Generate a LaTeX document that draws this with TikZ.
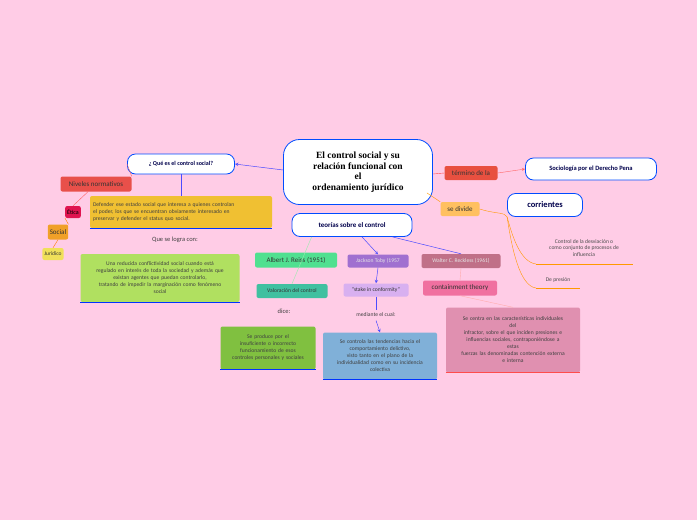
\documentclass[tikz,border=0pt]{standalone}
\usepackage{fontspec}
\setmainfont{Carlito}
\newfontfamily\ttl{Liberation Serif}
\begin{document}
\begin{tikzpicture}[x=1pt,y=-1pt,
 main/.style={draw=blue!70!cyan,fill=white,rounded corners=8pt,line width=0.8pt,align=center},
 tag/.style={rounded corners=2pt,inner sep=2pt,font=\fontsize{7}{8}\selectfont,text=black!80},
 box/.style={rounded corners=2pt,align=center,inner sep=3pt,font=\fontsize{5.6}{7}\selectfont,text=black!75},
 bl/.style={blue!70!white,line width=0.5pt},
 ul/.style={blue!80!cyan,line width=1pt}]
\fill[fill={rgb,255:red,255;green,204;blue,230}] (0,0) rectangle (697,520);
\useasboundingbox (0,0) rectangle (697,520);
\node[main,minimum width=149pt,minimum height=65pt,rounded corners=16pt,font=\ttl\bfseries\fontsize{9.5}{10.5}\selectfont] (t) at (358,172) {El control social y su\\relación funcional con\\el\\ordenamiento jurídico};
\node[main,minimum width=107pt,minimum height=20pt,font=\bfseries\fontsize{6}{7}\selectfont,text=blue!30!black] (q) at (181,164) {¿ Qué es el control social?};
\node[tag,fill={rgb,255:red,232;green,80;blue,74},minimum width=71pt,minimum height=15pt] (n) at (96,184) {Niveles normativos};
\node[tag,fill={rgb,255:red,224;green,20;blue,80},minimum height=12pt,font=\fontsize{6}{7}\selectfont,text=black] (e) at (73,212) {Ética};
\node[tag,fill={rgb,255:red,240;green,160;blue,40},minimum height=15pt] (s) at (58,232) {Social};
\node[tag,fill={rgb,255:red,240;green,224;blue,90},minimum height=12pt,font=\fontsize{5.5}{6}\selectfont] (j) at (53,254) {Jurídico};
\node[box,fill={rgb,255:red,240;green,192;blue,50},text width=176pt,align=left,minimum height=32pt] (d) at (181,212) {Defender ese estado social que interesa a quienes controlan\\el poder, los que se encuentran obviamente interesado en\\preservar y defender el status quo social.};
\draw[ul] (d.south west)--(d.south east);
\node[font=\fontsize{6.5}{7}\selectfont,text=black!75] (lo) at (175,240) {Que se logra con:};
\node[box,fill={rgb,255:red,176;green,224;blue,96},text width=153pt,minimum height=48pt] (u) at (160,278) {Una reducida conflictividad social cuando está\\regulado en interés de toda la sociedad y además que\\existan agentes que puedan controlarlo,\\tratando de impedir la marginación como fenómeno\\social};
\draw[ul] (u.south west)--(u.south east);
\node[main,minimum width=120pt,minimum height=23pt,font=\bfseries\fontsize{7}{8}\selectfont,text=blue!30!black] (te) at (352,225) {teorías sobre el control};
\node[tag,fill={rgb,255:red,80;green,224;blue,144},minimum width=82pt,minimum height=15pt] (a) at (296,260) {Albert J. Reiss (1951)};
\node[tag,fill={rgb,255:red,64;green,192;blue,160},minimum width=71pt,minimum height=14pt,font=\fontsize{5.6}{6}\selectfont] (v) at (292,291) {Valoración del control};
\node[font=\fontsize{6.5}{7}\selectfont,text=black!75] (di) at (284,311) {dice:};
\node[box,fill={rgb,255:red,128;green,192;blue,64},text width=89pt,minimum height=43pt] (sp) at (268,348) {Se produce por el\\insuficiente o incorrecto\\funcionamiento de esos\\controles personales y sociales};
\draw[ul] (sp.south west)--(sp.south east);
\node[tag,fill={rgb,255:red,160;green,112;blue,208},text=white!90!black,minimum width=61pt,minimum height=13pt,font=\fontsize{5.6}{6}\selectfont] (jt) at (378,261) {Jackson Toby (1957};
\node[tag,fill={rgb,255:red,216;green,176;blue,240},minimum width=65pt,minimum height=13pt,font=\fontsize{5.6}{6}\selectfont] (sk) at (376,290) {"stake in conformity"};
\node[font=\fontsize{5.6}{6}\selectfont,text=black!75] (me) at (376,315) {mediante el cual:};
\node[box,fill={rgb,255:red,128;green,176;blue,216},text width=108pt,minimum height=47pt] (sc) at (380,356) {Se controla las tendencias hacia el\\comportamiento delictivo,\\visto tanto en el plano de la\\individualidad como en su incidencia\\colectiva};
\draw[ul] (sc.south west)--(sc.south east);
\node[tag,fill={rgb,255:red,192;green,112;blue,136},text=white!90!black,minimum width=79pt,minimum height=14pt,font=\fontsize{5.6}{6}\selectfont] (w) at (461,261) {Walter C. Reckless (1961)};
\node[tag,fill={rgb,255:red,240;green,112;blue,160},minimum width=74pt,minimum height=15pt] (c) at (460,288) {containment theory};
\node[box,fill={rgb,255:red,224;green,144;blue,176},text width=128pt,minimum height=65pt] (sc2) at (513,340) {Se centra en las características individuales\\del\\infractor, sobre el que inciden presiones e\\influencias sociales, contraponiéndose a\\estas\\fuerzas las denominadas contención externa\\e interna};
\draw[red!60!pink,line width=1pt] (sc2.south west)--(sc2.south east);
\node[tag,fill={rgb,255:red,232;green,80;blue,64},minimum width=53pt,minimum height=14pt] (tr) at (471,173) {término de la};
\node[main,minimum width=131pt,minimum height=22pt,font=\bfseries\fontsize{6.5}{7}\selectfont,text=blue!30!black] (so) at (591,169) {Sociología por el Derecho Pena};
\node[tag,fill={rgb,255:red,255;green,192;blue,96},minimum width=39pt,minimum height=14pt] (sd) at (460,209) {se divide};
\node[main,minimum width=75pt,minimum height=23pt,font=\bfseries\fontsize{8.5}{9}\selectfont,text=blue!30!black] (co) at (545,205) {corrientes};
\node[font=\fontsize{5.6}{6.5}\selectfont,text=black!70,align=center] (cd) at (584,248) {Control de la desviación o\\como conjunto de procesos de\\influencia};
\coordinate (cdl) at (536,264); \coordinate (cdr) at (633,264);
\node[font=\fontsize{5.6}{6}\selectfont,text=black!70] (dp) at (558,280) {De presión};
\coordinate (dpl) at (536,288); \coordinate (dpr) at (580,288);
\draw[orange!80!yellow,line width=0.8pt] (cdl)--(cdr) (dpl)--(dpr);
\draw[bl,->,>=stealth] (t.west)+(0,-2) -- (q.east);
\draw[bl] (q.south) -- (d.north);
\draw[red!50!pink] (q.west) -- (n.north east);
\draw[red!50!pink] (n.south) ++(-8,0) -- (e.north);
\draw[orange] (e.south west) -- (s.north east);
\draw[orange] (s.south) -- (j.north);
\draw[red!70] (t.east)+(0,2) -- (tr.west);
\draw[red!60,->,>=stealth] (tr.east) -- (so.west);
\draw[orange!80!yellow] (t.south east)++(-6,-12) -- (sd.north west);
\draw[orange!80!yellow] (sd.east) .. controls (495,214) and (505,212) .. (co.south west);
\draw[orange!80!yellow] (co.south west) .. controls (512,235) and (520,262) .. (cdl);
\draw[orange!80!yellow] (co.south west) .. controls (512,250) and (520,286) .. (dpl);
\draw[teal!40!green!40] (te.south west)++(20,0) -- (v.north);
\draw[bl,->,>=stealth] (te.south)++(10,0) -- (jt.north);
\draw[bl] (te.south east)++(-20,0) -- (w.north);
\draw[bl,->,>=stealth] (jt.south) -- (sk.north);
\draw[bl] (sk.south) -- (me.north);
\draw[bl,->,>=stealth] (me.south) -- (sc.north);
\draw[pink!60!red!60] (w.south) -- (c.north);
\draw[pink!60!red!60] (c.south) -- (sc2.north);
\end{tikzpicture}
\end{document}
